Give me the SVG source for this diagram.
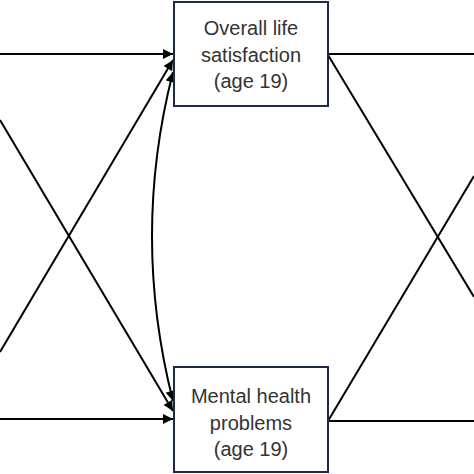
<svg xmlns="http://www.w3.org/2000/svg" width="474" height="474" viewBox="0 0 474 474">
<style>
.box{fill:#fff;stroke:#1f2a4a;stroke-width:2}
.lbl{font-family:"Liberation Sans",Arial,sans-serif;font-size:20px;fill:#333;text-anchor:middle}
.c{fill:none;stroke:#000;stroke-width:2}
</style>
<defs>
<marker id="ah" viewBox="0 0 10 10" refX="10" refY="5" markerWidth="5.5" markerHeight="5" orient="auto-start-reverse" markerUnits="strokeWidth">
<path d="M0,0 L10,5 L0,10 z" fill="#000"/>
</marker>
</defs>
<g id="connectors">
<line class="c" x1="0" y1="54" x2="173" y2="54" marker-end="url(#ah)"/>
<line class="c" x1="0" y1="352" x2="173" y2="60" marker-end="url(#ah)"/>
<line class="c" x1="0" y1="120" x2="173" y2="411" marker-end="url(#ah)"/>
<line class="c" x1="0" y1="419" x2="173" y2="419" marker-end="url(#ah)"/>
<path class="c" d="M173,72 Q131,236 173,401" marker-start="url(#ah)" marker-end="url(#ah)"/>
<line class="c" x1="328" y1="54" x2="474" y2="54"/>
<line class="c" x1="328" y1="55" x2="474" y2="297"/>
<line class="c" x1="328" y1="421" x2="474" y2="421"/>
<line class="c" x1="328" y1="421" x2="474" y2="176"/>
</g>
<g id="life">
<rect class="box" x="174" y="2" width="154" height="104"/>
<text class="lbl" x="251" y="35">Overall life</text>
<text class="lbl" x="251" y="62">satisfaction</text>
<text class="lbl" x="251" y="88">(age 19)</text>
</g>
<g id="mental">
<rect class="box" x="174" y="367" width="154" height="105"/>
<text class="lbl" x="251" y="403">Mental health</text>
<text class="lbl" x="251" y="430">problems</text>
<text class="lbl" x="251" y="456">(age 19)</text>
</g>
</svg>
